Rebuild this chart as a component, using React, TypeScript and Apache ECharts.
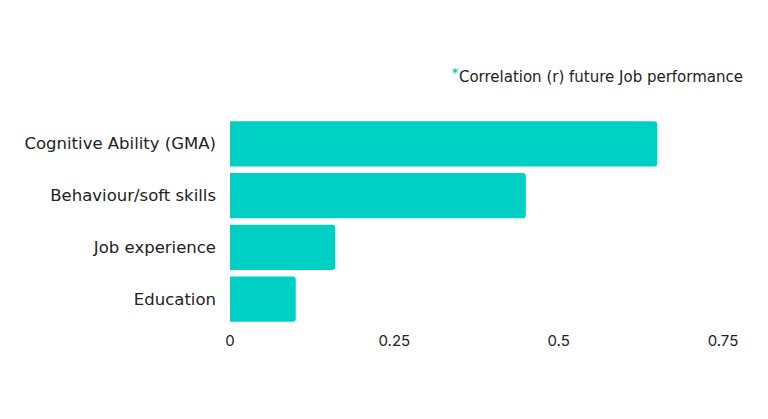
import React, { useEffect, useRef } from "react";
import * as echarts from "echarts";

const categories = ["Cognitive Ability (GMA)", "Behaviour/soft skills", "Job experience", "Education"];
const values = [0.65, 0.45, 0.16, 0.1];
const tickValues = [0, 0.25, 0.5, 0.75];
const legendText = "Correlation (r) future Job performance";

const FONT = "'DejaVu Sans', sans-serif";
const AXFONT = "Inter, sans-serif";
const TEAL = "#00d0c3";
const TEXT = "#222222";

export default function App() {
  const ref = useRef<HTMLDivElement>(null);
  useEffect(() => {
    if (!ref.current) return;
    const chart = echarts.init(ref.current, null, { renderer: "svg" });
    chart.setOption({
      animation: false,
      backgroundColor: "#ffffff",
      title: {
        text: `{a|*}{b|${legendText}}`,
        right: 25,
        top: 67,
        padding: 0,
        textStyle: {
          fontWeight: "normal",
          rich: {
            a: { color: TEAL, fontSize: 12, lineHeight: 20, fontFamily: FONT, fontWeight: "bold", verticalAlign: "top", padding: [0, 1, 0, 0] },
            b: { color: TEXT, fontSize: 15, lineHeight: 20, fontFamily: FONT, fontWeight: "normal" },
          },
        },
      },
      grid: { left: 230, right: 45, top: 118, bottom: 94, containLabel: false },
      xAxis: {
        type: "value",
        min: 0,
        max: 0.75,
        interval: 0.25,
        axisLine: { show: false },
        axisTick: { show: false },
        splitLine: { show: false },
        axisLabel: {
          color: TEXT,
          fontSize: 15,
          fontFamily: AXFONT,
          margin: 8,
          formatter: (v: number) => (tickValues.includes(v) ? String(v) : ""),
        },
      },
      yAxis: {
        type: "category",
        data: categories,
        inverse: true,
        axisLine: { show: false },
        axisTick: { show: false },
        axisLabel: { color: TEXT, fontSize: 16.5, fontFamily: FONT, margin: 14 },
      },
      series: [
        {
          type: "bar",
          data: values,
          barCategoryGap: "13%",
          itemStyle: { color: TEAL, borderRadius: [0, 3, 3, 0] },
        },
      ],
    });
    return () => chart.dispose();
  }, []);
  return <div ref={ref} style={{ position: "fixed", left: 0, top: 0, width: 768, height: 419 }} />;
}
